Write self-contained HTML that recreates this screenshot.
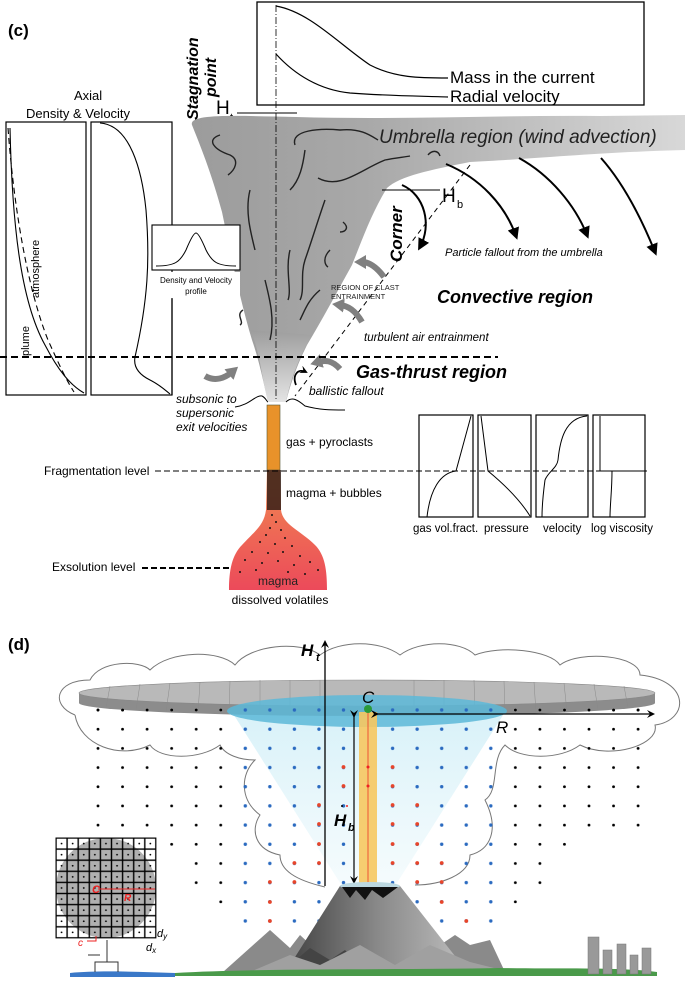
<!DOCTYPE html>
<html><head><meta charset="utf-8"><style>
html,body{margin:0;padding:0;background:#fff}
svg{display:block;font-family:"Liberation Sans",sans-serif}
</style></head><body>
<svg width="685" height="988" viewBox="0 0 685 988" xmlns="http://www.w3.org/2000/svg">
<defs>
<linearGradient id="plg" x1="0" x2="1" y1="0" y2="0"><stop offset="0" stop-color="#9c9c9c"/><stop offset="0.35" stop-color="#a8a8a8"/><stop offset="1" stop-color="#d8d8d8"/></linearGradient>
<linearGradient id="ventg" x1="0" x2="0" y1="0" y2="1"><stop offset="0" stop-color="#9c9c9c"/><stop offset="1" stop-color="#f4f4f4"/></linearGradient>
<linearGradient id="magg" x1="0" x2="0" y1="0" y2="1"><stop offset="0" stop-color="#f08a50"/><stop offset="1" stop-color="#ec4a5a"/></linearGradient>
<linearGradient id="cong" x1="0" x2="1" y1="0" y2="0"><stop offset="0" stop-color="#444"/><stop offset="0.5" stop-color="#888"/><stop offset="1" stop-color="#bbb"/></linearGradient>
<linearGradient id="coneg" x1="0" x2="0" y1="0" y2="1"><stop offset="0" stop-color="#bde8f4" stop-opacity="0.6"/><stop offset="1" stop-color="#e6f6fa" stop-opacity="0.4"/></linearGradient>
<marker id="ah" markerWidth="8" markerHeight="8" refX="6" refY="4" orient="auto" markerUnits="userSpaceOnUse"><path d="M0,0 L8,4 L0,8 L3,4 Z" fill="#000"/></marker>
<marker id="ahb" markerWidth="12" markerHeight="12" refX="8" refY="6" orient="auto" markerUnits="userSpaceOnUse"><path d="M0,0 L12,6 L0,12 Z" fill="#000"/></marker>
<marker id="ahg" markerWidth="14" markerHeight="14" refX="4" refY="7" orient="auto" markerUnits="userSpaceOnUse"><path d="M0,0 L12,7 L0,14 Z" fill="#808080"/></marker>
<pattern id="pk" patternUnits="userSpaceOnUse" x="85.725" y="700.41" width="24.55" height="19.18"><circle cx="12.275" cy="9.59" r="1.4" fill="#000"/></pattern>
<pattern id="pb" patternUnits="userSpaceOnUse" x="85.725" y="700.41" width="24.55" height="19.18"><circle cx="12.275" cy="9.59" r="1.7" fill="#2a6ac0"/></pattern>
<pattern id="pg" patternUnits="userSpaceOnUse" x="56" y="838" width="11.1" height="11.1"><rect x="0" y="0" width="11.1" height="11.1" fill="none" stroke="#000" stroke-width="1.4"/><circle cx="5.55" cy="5.55" r="0.9" fill="#000"/></pattern>
</defs>

<!-- ===== (c) ===== -->
<text x="8" y="36" font-size="17" font-weight="bold">(c)</text>

<rect x="257" y="2" width="387" height="103" fill="#fff" stroke="#000" stroke-width="1.3"/>
<path d="M276,6 C310,12 340,45 370,65 C395,78 420,78 448,78" fill="none" stroke="#000" stroke-width="1.2"/>
<path d="M276,54 C295,75 320,90 350,93 C390,96 420,96 448,97" fill="none" stroke="#000" stroke-width="1.2"/>
<text x="450" y="83" font-size="17">Mass in the current</text>
<text x="450" y="102" font-size="17">Radial velocity</text>

<text transform="translate(198,120) rotate(-90)" font-size="16" font-weight="bold" font-style="italic">Stagnation</text>
<text transform="translate(216,97) rotate(-90)" font-size="16" font-weight="bold" font-style="italic">point</text>
<text x="216" y="114" font-size="19">H</text><text x="230" y="121" font-size="11">t</text>
<line x1="237" y1="113" x2="297" y2="113" stroke="#000" stroke-width="1"/>

<path d="M192,125 C188,113 240,116 296,117 C400,120 500,115 600,116 L685,115 L685,150 C600,152 520,160 470,162 C430,170 400,176 387,188 C372,212 362,240 352,265 C337,292 322,320 307,345 C297,365 290,385 286,402 L268,402 C263,380 259,360 252,340 C240,300 232,260 222,212 C212,175 202,150 192,125 Z" fill="url(#plg)"/>
<path d="M250,330 C260,350 262,380 268,402 L286,402 C290,380 300,355 312,335 Z" fill="url(#ventg)" opacity="0.8"/>
<g fill="none" stroke="#222" stroke-width="1.4">
<path d="M220,135 C205,140 215,150 230,155 C240,160 235,170 228,175"/>
<path d="M295,145 C290,130 320,128 340,130 C360,128 370,135 378,140"/>
<path d="M318,178 C340,190 360,170 385,160 C395,158 405,157 410,156"/>
<path d="M250,190 C245,210 250,230 255,250"/>
<path d="M305,150 C303,165 300,180 290,190"/>
<path d="M325,200 C318,220 312,240 305,260 C300,275 305,290 300,300"/>
<path d="M343,222 C350,228 345,232 340,232"/>
<path d="M330,250 C322,258 325,265 328,267"/>
<path d="M265,280 C270,300 275,320 270,340"/>
<path d="M320,290 C308,300 305,310 300,320"/>
<path d="M243,310 C235,315 245,322 240,325"/>
<path d="M290,250 C285,270 292,290 288,300"/>
<path d="M428,155 C432,150 438,150 440,156"/>
</g>
<line x1="276" y1="5" x2="276" y2="400" stroke="#000" stroke-width="0.8" stroke-dasharray="7,2,1,2"/>
<text x="379" y="143" font-size="19" font-style="italic" fill="#222">Umbrella region (wind advection)</text>

<line x1="382" y1="190" x2="440" y2="190" stroke="#000" stroke-width="1"/>
<text x="442" y="202" font-size="19">H</text><text x="457" y="208" font-size="11">b</text>
<line x1="470" y1="165" x2="295" y2="396" stroke="#000" stroke-width="1" stroke-dasharray="5,4"/>
<g fill="none" stroke="#000" stroke-width="2">
<path d="M402,185 C425,195 432,225 420,247" marker-end="url(#ahb)"/>
<path d="M446,164 C480,178 505,205 516,236" marker-end="url(#ahb)"/>
<path d="M519,158 C550,175 575,205 587,235" marker-end="url(#ahb)"/>
<path d="M601,158 C625,185 642,220 655,252" marker-end="url(#ahb)"/>
</g>
<text x="445" y="256" font-size="11" font-style="italic">Particle fallout from the umbrella</text>
<text transform="translate(402,262) rotate(-90)" font-size="17" font-weight="bold" font-style="italic">Corner</text>
<text x="331" y="290" font-size="7.5" fill="#222">REGION OF CLAST</text>
<text x="331" y="299" font-size="7.5" fill="#222">ENTRAINMENT</text>
<text x="437" y="303" font-size="18" font-weight="bold" font-style="italic">Convective region</text>
<text x="364" y="341" font-size="11.5" font-style="italic">turbulent air entrainment</text>
<g fill="none" stroke="#808080" stroke-width="6">
<path d="M384,277 C375,265 368,262 362,262" marker-end="url(#ahg)"/>
<path d="M362,322 C355,310 348,306 340,305" marker-end="url(#ahg)"/>
<path d="M340,369 C332,360 325,360 318,362" marker-end="url(#ahg)"/>
<path d="M205,376 C215,382 225,378 232,372" marker-end="url(#ahg)"/>
</g>
<line x1="0" y1="357" x2="498" y2="357" stroke="#000" stroke-width="2" stroke-dasharray="7,4"/>
<text x="356" y="378" font-size="18" font-weight="bold" font-style="italic">Gas-thrust region</text>
<path d="M296,385 C292,375 298,368 306,372" fill="none" stroke="#000" stroke-width="1.8" marker-end="url(#ah)"/>
<text x="309" y="395" font-size="12" font-style="italic">ballistic fallout</text>
<path d="M235,407 C250,405 255,395 262,396 C266,398 267,402 268,402" fill="none" stroke="#000" stroke-width="1"/>
<path d="M286,402 C292,396 298,400 305,406 C320,410 330,410 345,410" fill="none" stroke="#000" stroke-width="1"/>
<text x="176" y="403" font-size="12" font-style="italic">subsonic to</text>
<text x="176" y="417" font-size="12" font-style="italic">supersonic</text>
<text x="176" y="431" font-size="12" font-style="italic">exit velocities</text>

<text x="74" y="100" font-size="13">Axial</text>
<text x="26" y="118" font-size="13">Density &amp; Velocity</text>
<rect x="6" y="122" width="80" height="273" fill="none" stroke="#000" stroke-width="1.2"/>
<rect x="91" y="122" width="81" height="273" fill="none" stroke="#000" stroke-width="1.2"/>
<path d="M10,128 C12,220 20,300 45,345 C58,370 70,385 84,393" fill="none" stroke="#000" stroke-width="1.1"/>
<path d="M8,128 C14,210 28,290 48,340 C58,362 65,378 74,392" fill="none" stroke="#000" stroke-width="1.1" stroke-dasharray="6,4"/>
<text transform="translate(39,298) rotate(-90)" font-size="11">atmosphere</text>
<text transform="translate(29,356) rotate(-90)" font-size="11">plume</text>
<path d="M100,123 C130,125 142,170 146,210 C150,260 148,300 135,357 C133,368 140,375 150,380 C160,385 165,390 170,394" fill="none" stroke="#000" stroke-width="1.1"/>
<rect x="152" y="225" width="88" height="45" fill="#fff" stroke="#000" stroke-width="1.1"/>
<path d="M156,266 C175,266 180,262 186,250 C191,238 194,233 196,233 C198,233 201,238 206,250 C212,262 217,266 236,266" fill="none" stroke="#000" stroke-width="1"/>
<rect x="152" y="272" width="88" height="26" fill="#fff"/>
<text x="196" y="283" font-size="8" text-anchor="middle">Density and Velocity</text>
<text x="196" y="294" font-size="8" text-anchor="middle">profile</text>
<line x1="172" y1="299" x2="172" y2="395" stroke="#000" stroke-width="1.2"/>

<rect x="267" y="405" width="13" height="65" fill="#e8922a" stroke="#553" stroke-width="0.6"/>
<path d="M267,470 L280,470 L281,510 C283,525 300,530 315,545 C325,555 327,570 327,590 L229,590 C229,570 232,555 242,545 C256,530 264,525 266,510 Z" fill="url(#magg)"/>
<rect x="267" y="470" width="14" height="40" fill="#2a1a14" opacity="0.8"/>
<g fill="#111">
<circle cx="272" cy="515" r="1"/><circle cx="276" cy="522" r="1"/><circle cx="270" cy="528" r="1"/><circle cx="281" cy="530" r="1"/><circle cx="266" cy="535" r="1"/><circle cx="285" cy="538" r="1"/><circle cx="260" cy="542" r="1"/><circle cx="275" cy="544" r="1"/><circle cx="292" cy="546" r="1"/><circle cx="252" cy="552" r="1"/><circle cx="268" cy="553" r="1"/><circle cx="283" cy="552" r="1"/><circle cx="300" cy="556" r="1"/><circle cx="245" cy="560" r="1"/><circle cx="262" cy="563" r="1"/><circle cx="278" cy="561" r="1"/><circle cx="294" cy="565" r="1"/><circle cx="310" cy="562" r="1"/><circle cx="240" cy="572" r="1"/><circle cx="256" cy="570" r="1"/><circle cx="288" cy="572" r="1"/><circle cx="305" cy="574" r="1"/><circle cx="318" cy="570" r="1"/>
</g>
<text x="278" y="585" font-size="12" text-anchor="middle" fill="#222">magma</text>
<text x="280" y="604" font-size="12" text-anchor="middle">dissolved volatiles</text>
<text x="286" y="446" font-size="12">gas + pyroclasts</text>
<text x="286" y="497" font-size="12">magma + bubbles</text>
<text x="44" y="475" font-size="12">Fragmentation level</text>
<line x1="155" y1="471" x2="650" y2="471" stroke="#000" stroke-width="1" stroke-dasharray="6,3"/>
<text x="52" y="571" font-size="12">Exsolution level</text>
<line x1="142" y1="568" x2="229" y2="568" stroke="#000" stroke-width="2" stroke-dasharray="6,3"/>

<g fill="none" stroke="#000" stroke-width="1.2">
<rect x="419" y="415" width="54" height="102"/>
<rect x="478" y="415" width="53" height="102"/>
<rect x="536" y="415" width="52" height="102"/>
<rect x="593" y="415" width="52" height="102"/>
</g>
<g fill="none" stroke="#000" stroke-width="1">
<path d="M471,416 L456,471 C440,473 430,490 427,517"/>
<path d="M481,416 L488,471 C505,485 520,500 530,516"/>
<path d="M587,416 C565,418 560,440 558,460 C557,468 548,472 545,480 C543,495 542,505 542,517"/>
<line x1="600" y1="416" x2="600" y2="471"/>
<path d="M600,471 L644,471"/>
<path d="M612,471 C612,490 610,505 610,517"/>
</g>
<text x="413" y="532" font-size="11.5">gas vol.fract.</text>
<text x="484" y="532" font-size="11.5">pressure</text>
<text x="543" y="532" font-size="11.5">velocity</text>
<text x="591" y="532" font-size="11.5">log viscosity</text>

<!-- ===== (d) ===== -->
<text x="8" y="650" font-size="17" font-weight="bold">(d)</text>
<path d="M75,715 C50,705 55,680 90,680 C100,660 140,660 150,670 C170,650 220,650 235,665 C250,645 300,640 320,655 C340,640 380,640 400,655 C420,640 460,640 475,655 C500,645 550,650 560,665 C580,650 640,655 640,675 C690,680 690,720 655,725 C660,745 610,760 580,745 C560,760 520,760 505,745 C490,760 500,790 485,800 C500,830 490,850 470,855 C470,875 440,885 415,885 M325,887 C295,880 280,870 280,855 C255,850 250,830 260,815 C240,800 240,775 255,760 C240,760 225,755 220,745 C200,760 160,760 150,745 C120,760 80,745 75,715" fill="#fff" stroke="#777" stroke-width="1"/>
<path d="M232,712 L505,712 L395,886 L342,886 Z" fill="url(#coneg)"/>
<!-- dots -->
<rect x="85.7" y="700.4" width="147.3" height="134.3" fill="url(#pk)"/>
<rect x="503.1" y="700.4" width="147.3" height="134.3" fill="url(#pk)"/>
<rect x="159.4" y="834.7" width="73.6" height="19.2" fill="url(#pk)"/>
<rect x="503.1" y="834.7" width="73.7" height="19.2" fill="url(#pk)"/>
<rect x="184" y="853.9" width="49" height="38.4" fill="url(#pk)"/>
<rect x="503.1" y="853.9" width="49.1" height="38.4" fill="url(#pk)"/>
<rect x="208.5" y="892.3" width="24.5" height="19.2" fill="url(#pk)"/>
<rect x="503.1" y="892.3" width="24.6" height="19.2" fill="url(#pk)"/>
<!-- disk -->
<path d="M79,693 L79,703 A288,13 0 0 0 655,703 L655,693 Z" fill="#8c8c8c"/>
<ellipse cx="367" cy="693" rx="288" ry="13" fill="#b9b9b9" stroke="#888" stroke-width="0.6"/>
<g stroke="#8a8a8a" stroke-width="0.5">
<line x1="110" y1="686" x2="106" y2="708"/><line x1="140" y1="684" x2="136" y2="710"/><line x1="170" y1="683" x2="166" y2="712"/><line x1="200" y1="682" x2="198" y2="713"/><line x1="230" y1="681" x2="229" y2="714"/><line x1="260" y1="680" x2="260" y2="715"/><line x1="290" y1="680" x2="290" y2="716"/><line x1="320" y1="680" x2="320" y2="716"/><line x1="414" y1="680" x2="414" y2="716"/><line x1="444" y1="680" x2="444" y2="716"/><line x1="474" y1="680" x2="475" y2="715"/><line x1="504" y1="681" x2="505" y2="714"/><line x1="534" y1="682" x2="536" y2="713"/><line x1="564" y1="683" x2="567" y2="712"/><line x1="594" y1="684" x2="598" y2="710"/><line x1="624" y1="686" x2="628" y2="708"/>
</g>
<g fill="#000">
<circle cx="98" cy="710" r="1.4"/><circle cx="122.6" cy="710" r="1.4"/><circle cx="147.1" cy="710" r="1.4"/><circle cx="171.7" cy="710" r="1.4"/><circle cx="196.2" cy="710" r="1.4"/><circle cx="220.8" cy="710" r="1.4"/><circle cx="515.4" cy="710" r="1.4"/><circle cx="539.9" cy="710" r="1.4"/><circle cx="564.5" cy="710" r="1.4"/><circle cx="589" cy="710" r="1.4"/><circle cx="613.6" cy="710" r="1.4"/><circle cx="638.1" cy="710" r="1.4"/>
</g>
<ellipse cx="367" cy="711" rx="140" ry="16" fill="#5cb8d8" opacity="0.85"/>
<rect x="233" y="700.4" width="122.8" height="230.3" fill="url(#pb)"/>
<rect x="380.3" y="700.4" width="122.8" height="230.3" fill="url(#pb)"/>
<g fill="#e8452a">
<circle cx="343.5" cy="767" r="1.9"/><circle cx="392.6" cy="767" r="1.9"/>
<circle cx="343.5" cy="786" r="1.9"/><circle cx="392.6" cy="786" r="1.9"/>
<circle cx="319" cy="805" r="1.9"/><circle cx="392.6" cy="805" r="1.9"/><circle cx="417.2" cy="805" r="1.9"/>
<circle cx="319" cy="824" r="1.9"/><circle cx="392.6" cy="824" r="1.9"/><circle cx="417.2" cy="824" r="1.9"/>
<circle cx="319" cy="844" r="1.9"/><circle cx="392.6" cy="844" r="1.9"/><circle cx="417.2" cy="844" r="1.9"/>
<circle cx="294.4" cy="863" r="1.9"/><circle cx="319" cy="863" r="1.9"/><circle cx="392.6" cy="863" r="1.9"/><circle cx="417.2" cy="863" r="1.9"/><circle cx="441.7" cy="863" r="1.9"/>
<circle cx="269.9" cy="882" r="1.9"/><circle cx="294.4" cy="882" r="1.9"/><circle cx="417.2" cy="882" r="1.9"/><circle cx="441.7" cy="882" r="1.9"/>
<circle cx="269.9" cy="902" r="1.9"/><circle cx="441.7" cy="902" r="1.9"/>
<circle cx="269.9" cy="921" r="1.9"/><circle cx="466.3" cy="921" r="1.9"/>
</g>
<rect x="359" y="712" width="18" height="172" fill="#f6c860" opacity="0.9"/>
<line x1="368" y1="710" x2="368" y2="884" stroke="#e53" stroke-width="1"/>
<circle cx="368" cy="767" r="1.5" fill="#e22"/><circle cx="368" cy="786" r="1.5" fill="#e22"/>
<circle cx="368" cy="709" r="4" fill="#2a9a3a"/>
<text x="362" y="703" font-size="17" font-style="italic">C</text>
<line x1="377" y1="714" x2="653" y2="714" stroke="#000" stroke-width="1.3" marker-start="url(#ah)" marker-end="url(#ah)"/>
<text x="496" y="733" font-size="17" font-style="italic">R</text>
<line x1="325" y1="886" x2="325" y2="642" stroke="#000" stroke-width="1.3" marker-end="url(#ah)"/>
<text x="301" y="656" font-size="17" font-weight="bold" font-style="italic">H</text><text x="316" y="661" font-size="11" font-weight="bold" font-style="italic">t</text>
<line x1="354" y1="716" x2="354" y2="882" stroke="#000" stroke-width="1.2" marker-start="url(#ah)" marker-end="url(#ah)"/>
<text x="334" y="826" font-size="17" font-weight="bold" font-style="italic">H</text><text x="348" y="831" font-size="11" font-weight="bold" font-style="italic">b</text>
<circle cx="342" cy="806" r="1" fill="#000"/><circle cx="347" cy="806" r="1" fill="#e22"/>

<polygon points="223,972 270,930 290,948 300,935 340,972" fill="#8a8a8a"/>
<polygon points="400,972 455,935 470,945 490,940 505,972" fill="#8a8a8a"/>
<polygon points="340,886 400,886 462,965 290,965" fill="url(#cong)"/>
<polygon points="290,965 310,948 330,960 345,950 360,966" fill="#444"/>
<polygon points="420,966 440,950 455,958 475,968" fill="#777"/>
<polygon points="250,972 290,955 320,965 360,945 395,965 430,945 470,962 510,972" fill="#a0a0a0"/>
<ellipse cx="370" cy="886" rx="30" ry="4" fill="#bcd8e0"/>
<path d="M342,887 L350,898 L356,890 L365,900 L372,890 L383,898 L398,887" fill="#111"/>
<path d="M175,973 C260,968 400,970 500,968 C560,969 620,967 657,972 L657,976 L175,976 Z" fill="#4a9a4a"/>
<path d="M70,973 C100,970 140,972 175,973 L175,977 L70,977 Z" fill="#3a78c8"/>
<g fill="#999" stroke="#777" stroke-width="0.5">
<rect x="588" y="937" width="11" height="37"/><rect x="603" y="950" width="9" height="24"/><rect x="617" y="944" width="9" height="30"/><rect x="630" y="955" width="8" height="19"/><rect x="642" y="948" width="9" height="26"/>
</g>
<g stroke="#333" stroke-width="1" fill="none">
<path d="M95,972 L95,962 L118,962 L118,972"/><line x1="107" y1="962" x2="107" y2="940"/><line x1="88" y1="955" x2="100" y2="955"/>
</g>

<rect x="56" y="838" width="100" height="100" fill="#fff"/>
<circle cx="106" cy="888" r="50" fill="#b0b0b0"/>
<rect x="56" y="838" width="99.9" height="99.9" fill="url(#pg)" stroke="#000" stroke-width="1"/>
<line x1="98" y1="889" x2="155" y2="889" stroke="#e22" stroke-width="1"/>
<text x="92" y="893" font-size="11" font-style="italic" font-weight="bold" fill="#e22">C</text>
<text x="124" y="901" font-size="10" font-style="italic" font-weight="bold" fill="#e22">R</text>
<path d="M87,941 L96,941 L96,936" fill="none" stroke="#e22" stroke-width="1"/>
<text x="78" y="946" font-size="10" font-style="italic" fill="#e22">c</text>
<text x="157" y="937" font-size="11" font-style="italic">d<tspan font-size="8" dy="2">y</tspan></text>
<text x="146" y="951" font-size="11" font-style="italic">d<tspan font-size="8" dy="2">x</tspan></text>
</svg>
</body></html>
